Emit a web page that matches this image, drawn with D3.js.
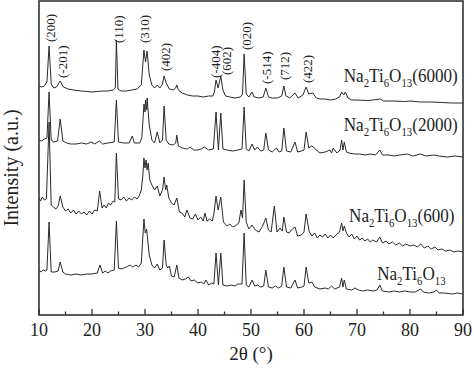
<!DOCTYPE html>
<html>
<head>
<meta charset="utf-8">
<script src="https://cdn.jsdelivr.net/npm/d3@7/dist/d3.min.js"></script>
<style>
  body { margin: 0; background: #fff; }
  svg text { font-family: "Liberation Serif", "Times New Roman", serif; fill: #222; }
</style>
</head>
<body>
<div id="chart"></div>
<script>
// 2theta / intensity (a.u.) pairs, stacked as in the original
const pattern6000 = [
  [10,229],[10.5,228],[11,229],[11.5,233],[11.9,269],[12.3,231],[12.8,227],[13.3,228],[14,234],[14.6,228],
  [15.5,226],[16.5,225],[18,224],[20,223],[22,224],[23,224],[24,225],[24.4,227],[24.6,275],[24.9,226],
  [25.5,224],[26.5,224],[27.5,225],[28.5,226],[29.3,230],[29.8,265],[30.1,253],[30.4,264],[30.8,240],[31.3,230],
  [31.8,227],[32.3,230],[32.8,227],[33.3,231],[33.6,239],[34,232],[34.6,226],[35.3,225],[35.8,227],[36,230],
  [36.3,225],[37,222],[38,220],[39,219],[40,219],[41,218],[42,219],[42.8,219],[43.1,223],[43.4,235],
  [43.8,227],[44.3,239],[44.7,225],[45.2,219],[46,218],[47,217],[48,218],[48.4,221],[48.7,261],[49.1,221],
  [49.6,218],[50.2,223],[50.6,218],[51.5,217],[52.3,218],[52.8,227],[53.3,218],[54,217],[55,217],[55.8,219],
  [56.2,229],[56.6,219],[57.3,217],[58.3,222],[58.9,217],[59.8,220],[60.4,228],[60.9,221],[61.7,222],[62.3,217],
  [63,216],[64,216],[65,215],[66,216],[66.7,218],[67.1,223],[67.5,220],[67.8,223],[68.3,217],[69,215],
  [70,215],[72,214.5],[73,215],[74.4,216],[75,214],[77,214],[79,213.5],[80,214],[82,213],[84,213],
  [86,212.5],[88,212],[90,212]
];
const pattern2000 = [
  [10,175],[10.5,174],[11,176],[11.5,177],[11.9,223],[12.3,175],[12.8,173],[13.5,174],[14,196],[14.5,174],
  [15.2,172],[16,171],[17,171],[18,172],[19,171],[19.8,173],[20.5,171],[21.4,174],[22,171],[23,172],
  [24.2,173],[24.6,215],[25,173],[26,172],[27,172],[27.6,179],[28,172],[29,172],[29.4,177],[29.8,211],
  [30,203],[30.1,215],[30.3,205],[30.4,217],[30.8,190],[31.3,175],[31.8,172],[32.3,183],[32.8,172],[33.3,175],
  [33.6,209],[34,175],[34.5,171],[35.3,170],[35.8,172],[36,180],[36.3,169],[37,167],[38,166],[38.5,168],
  [39.2,165],[40,165],[40.6,166],[41.2,168],[42,165],[42.9,166],[43.4,203],[43.85,165],[44.3,202],[44.7,166],
  [45.5,165],[46.5,164],[47.5,165],[48.3,166],[48.7,208],[49.1,166],[49.6,164],[50.2,171],[50.7,165],[51.2,168],
  [51.8,164],[52.4,165],[52.8,182],[53.3,165],[54,163],[54.8,167],[55.3,163],[55.8,164],[56.2,187],[56.7,164],
  [57.5,163],[58.3,173],[58.8,163],[59.5,164],[60,165],[60.4,183],[60.9,167],[61.4,169],[61.8,168],[62.3,165],
  [63,162],[64,163],[64.9,165],[65.2,162],[65.5,167],[66.2,162],[66.8,165],[67.1,175],[67.35,165],[67.6,173],
  [68,163],[68.5,162],[69.5,161],[70.5,161],[71.5,160],[72.5,161],[73.5,160],[74.3,165],[74.8,160],[76,160],
  [77,159],[78,160],[79.5,161],[80.5,159],[82,161],[83,159],[84.5,160],[85.5,159],[87,158],[88.5,159],[90,158]
];
const pattern600 = [
  [10,117],[10.3,114],[10.6,118],[11,115],[11.4,116],[11.9,193],[12.3,110],[12.7,108],[13.2,106],[13.6,109],
  [14,119],[14.5,108],[15,104],[15.5,106],[16,102],[16.5,105],[17,101],[17.5,104],[18,101],[18.5,103],
  [19,100],[19.5,104],[20,101],[20.5,105],[21,104],[21.45,124],[21.9,107],[22.3,110],[22.7,107],[23.1,112],
  [23.5,110],[24,114],[24.3,113],[24.6,162],[25,116],[25.5,115],[26,118],[26.5,114],[27,117],[27.5,115],
  [28,118],[28.5,116],[28.9,119],[29.3,125],[29.6,140],[29.8,157],[30,147],[30.2,155],[30.4,145],[30.6,152],
  [30.9,135],[31.3,130],[31.8,125],[32.3,129],[32.8,119],[33.3,125],[33.6,138],[33.9,125],[34.1,130],[34.5,117],
  [35,112],[35.5,110],[36,117],[36.5,103],[37,102],[37.5,98],[37.9,105],[38.5,97],[39,96],[39.5,101],
  [40,95],[40.5,98],[41,94],[41.3,102],[41.7,94],[42.2,96],[42.7,94],[43,101],[43.4,119],[43.8,105],
  [44.3,118],[44.8,93],[45.5,89],[46,91],[46.5,88],[47,89],[47.7,92],[48.1,105],[48.4,97],[48.7,135],
  [49.1,93],[49.6,86],[50.2,90],[50.8,85],[51.5,83],[52.2,89],[52.8,97],[53.3,85],[53.8,83],[54.4,109],
  [54.9,83],[55.5,87],[55.9,84],[56.2,98],[56.7,83],[57.2,82],[57.8,86],[58.3,88],[58.8,79],[59.5,80],
  [60,83],[60.4,101],[61,83],[61.5,79],[62,82],[62.5,77],[63,80],[63.5,78],[64,81],[64.5,77],
  [65,80],[65.5,77],[66,80],[66.7,83],[67.1,92],[67.35,84],[67.6,89],[68,82],[68.5,78],[69,81],
  [69.5,76],[70,79],[70.5,75],[71,77],[71.5,74],[72,76],[72.5,73],[73,75],[73.7,73],[74.3,78],
  [74.8,72],[75.5,74],[76,71],[76.7,73],[77.3,70],[78,72],[78.6,69],[79.2,71],[80,69],[80.7,70],
  [81.4,68],[82,71],[82.7,67],[83.4,69],[84,66],[84.7,68],[85.3,65],[86,66],[86.7,64],[87.5,65],
  [88.3,63],[89,64],[90,63]
];
const patternPlain = [
  [10,45],[10.4,43],[10.8,45],[11.2,44],[11.5,45],[11.9,93],[12.3,43],[13,43],[13.6,44],[14,53],
  [14.5,43],[15,41],[16,40],[17,41],[18,40],[19,41],[20,41],[21,42],[21.5,50],[22,42],
  [22.5,44],[23,42],[23.5,44],[24.2,45],[24.6,94],[25,47],[25.5,46],[26.5,48],[27.2,50],[27.7,48],
  [28.3,50],[28.8,48],[29.3,52],[29.8,96],[30.05,82],[30.3,86],[30.8,60],[31.3,50],[31.8,47],[32.3,51],
  [32.8,45],[33.3,47],[33.6,75],[34,50],[34.3,47],[34.6,49],[35,39],[35.5,38],[36,50],[36.4,37],
  [37,35],[37.6,36],[38.2,38],[38.7,34],[39.3,35],[40,32],[40.6,33],[41.1,31],[41.5,35],[42,30],
  [42.6,32],[43,31],[43.4,62],[43.85,30],[44.3,62],[44.7,30],[45.5,29],[46.3,30],[47,29],[47.5,31],
  [48.3,31],[48.7,82],[49.1,30],[49.6,28],[50.2,35],[50.7,29],[51.3,30],[51.8,28],[52.4,29],[52.8,45],
  [53.3,28],[54,27],[54.6,29],[55.2,27],[55.8,29],[56.2,48],[56.7,28],[57.5,27],[58.3,35],[58.8,27],
  [59.6,28],[60,29],[60.4,48],[60.9,32],[61.5,33],[62,28],[63,26],[64,27],[64.6,26],[65.2,29],
  [65.8,26],[66.7,28],[67.1,37],[67.35,28],[67.6,35],[68,26],[69,25],[69.6,27],[70.3,25],[71,24],
  [72,25],[73,24],[73.8,25],[74.3,30],[74.8,24],[76,23],[77,24],[78,23],[79,24],[80,23],
  [81,23],[82,26],[82.5,23],[83.5,22],[84.5,23],[85,25],[85.5,22],[86.5,22],[88,21],[89,22],[90,21]
];

const sampleSuffixes = ["(6000)", "(2000)", "(600)", ""];
// where each sample name starts: [2theta, a.u.]
const sampleLabelAt = [[67.5, 228], [67.5, 179], [68.5, 88], [73.8, 30]];

const peakNames = ["(200)", "(-201)", "(110)", "(310)", "(402)", "(-404)", "(602)", "(020)", "(-514)", "(712)", "(422)"];
const peakLabelAt = [[12.2, 273], [14.5, 237], [25.0, 272], [29.9, 272], [33.9, 244], [43.3, 237],
  [45.4, 240], [49.1, 265], [52.9, 231], [56.3, 235], [60.7, 232]];

const majorTicks = [10, 20, 30, 40, 50, 60, 70, 80, 90];
const minorTicks = [15, 25, 35, 45, 55, 65, 75, 85];

const W = 474, H = 368;

class XrdChart {
  constructor(div) {
    let t = this;
    t.div = div;
    t.x = d3.scaleLinear().domain([10, 90]).range([39, 463]);
    t.y = d3.scaleLinear().domain([0, 314]).range([315, 1]);
  }

  init() {
    let t = this;
    let svg = d3.select(t.div)
      .append("svg")
      .attr("width", W)
      .attr("height", H);
    t.svg = svg;

    t.drawPatterns(svg);
    t.drawFrame(svg);
    t.drawLabels(svg);
  }

  drawPatterns(svg) {
    let t = this;
    let line = d3.line()
      .x(d => t.x(d[0]))
      .y(d => t.y(d[1]));

    svg.append("g")
      .attr("class", "patterns")
      .selectAll("path")
      .data([pattern6000, pattern2000, pattern600, patternPlain])
      .enter()
        .append("path")
        .attr("d", line)
        .attr("fill", "none")
        .attr("stroke", "#2a2a2a")
        .attr("stroke-width", 1)
        .attr("stroke-linejoin", "round");
  }

  drawFrame(svg) {
    let t = this;
    let y0 = t.y(0);

    svg.append("rect")
      .attr("x", t.x(10))
      .attr("y", t.y(314))
      .attr("width", t.x(90) - t.x(10))
      .attr("height", y0 - t.y(314))
      .attr("fill", "none")
      .attr("stroke", "#333")
      .attr("stroke-width", 1.6);

    // ticks point inwards, no ticks on y
    let ticks = svg.append("g").attr("class", "ticks");
    ticks.selectAll("line.major")
      .data(majorTicks)
      .enter()
        .append("line")
        .attr("class", "major")
        .attr("x1", d => t.x(d)).attr("x2", d => t.x(d))
        .attr("y1", y0).attr("y2", y0 - 6)
        .attr("stroke", "#333").attr("stroke-width", 1.3);
    ticks.selectAll("line.minor")
      .data(minorTicks)
      .enter()
        .append("line")
        .attr("class", "minor")
        .attr("x1", d => t.x(d)).attr("x2", d => t.x(d))
        .attr("y1", y0).attr("y2", y0 - 3.5)
        .attr("stroke", "#333").attr("stroke-width", 1.3);

    ticks.selectAll("text")
      .data(majorTicks)
      .enter()
        .append("text")
        .attr("x", d => t.x(d))
        .attr("y", 336)
        .attr("text-anchor", "middle")
        .style("font-size", "18px")
        .text(d => d);

    svg.append("text")
      .attr("x", (t.x(10) + t.x(90)) / 2)
      .attr("y", 360)
      .attr("text-anchor", "middle")
      .style("font-size", "19px")
      .text("2θ (°)");

    svg.append("text")
      .attr("transform", "translate(18,168) rotate(-90)")
      .attr("text-anchor", "middle")
      .style("font-size", "20px")
      .text("Intensity (a.u.)");
  }

  drawLabels(svg) {
    let t = this;

    svg.append("g")
      .attr("class", "peaks")
      .selectAll("text")
      .data(peakNames)
      .enter()
        .append("text")
        .attr("transform", (d, i) => {
          let p = peakLabelAt[i];
          return `translate(${t.x(p[0])},${t.y(p[1])}) rotate(-90)`;
        })
        .attr("dy", "0.34em")
        .style("font-size", "13px")
        .text(d => d);

    // the sample names look a bit narrower than plain Times in the figure
    let names = svg.append("g")
      .attr("class", "samples")
      .selectAll("text")
      .data(sampleSuffixes)
      .enter()
        .append("text")
        .attr("transform", (d, i) =>
          `translate(${t.x(sampleLabelAt[i][0])},${t.y(sampleLabelAt[i][1])}) scale(0.9,1)`)
        .style("font-size", "19px");

    names.each(function(suffix) {
      let txt = d3.select(this);
      let parts = [["Na", false], ["2", true], ["Ti", false], ["6", true], ["O", false], ["13", true]];
      parts.forEach(p => {
        txt.append("tspan")
          .attr("dy", p[1] ? 5 : (txt.selectAll("tspan").size() ? -5 : 0))
          .style("font-size", p[1] ? "12px" : "19px")
          .text(p[0]);
      });
      if (suffix) {
        txt.append("tspan").attr("dy", -5).text(suffix);
      }
    });
  }
}

let chart = new XrdChart(document.getElementById("chart"));
chart.init();
</script>
</body>
</html>
